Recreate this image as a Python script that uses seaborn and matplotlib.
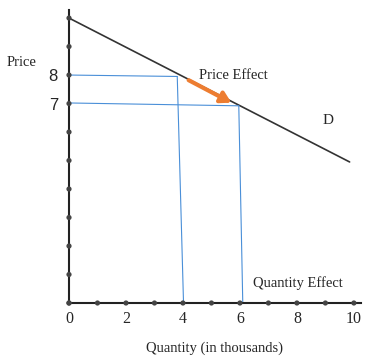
import matplotlib
matplotlib.use("Agg")
from matplotlib import pyplot as plt
import seaborn as sns
import numpy as np

# demand curve
demand_q = [0, 9.85]
demand_p = [10, 4.95]

# guide lines (old price 8 -> qty 4, new price 7 -> qty 6)
old_h_q = [0, 3.8]
old_h_p = [8, 7.95]
old_v_q = [3.8, 4.02]
old_v_p = [7.95, 0]
new_h_q = [0, 5.96]
new_h_p = [7.02, 6.92]
new_v_q = [5.96, 6.1]
new_v_p = [6.92, 0]

# price effect arrow
arrow_start = (4.2, 7.82)
arrow_end = (5.7, 7.03)

axis_ticks = list(range(0, 11))
x_labels = ["0", "2", "4", "6", "8", "10"]
y_labels = ["8", "7"]

sns.set_style("white")
plt.rcParams["font.family"] = ["Liberation Serif", "DejaVu Serif"]

fig = plt.figure(figsize=(3.8, 3.58), dpi=100)
ax = fig.add_axes([69/380, 55/358, 292/380, 293.5/358])

sns.lineplot(x=demand_q, y=demand_p, ax=ax, color="#333333", linewidth=1.2)
blue = "#4a8fd8"
for q, p in [(old_h_q, old_h_p), (old_v_q, old_v_p), (new_h_q, new_h_p), (new_v_q, new_v_p)]:
    sns.lineplot(x=q, y=p, ax=ax, color=blue, linewidth=0.8, sort=False)

ax.annotate("", xy=arrow_end, xytext=arrow_start,
            arrowprops=dict(arrowstyle="-|>,head_length=0.6,head_width=0.35",
                            color="#ed7d31", lw=3, shrinkA=0, shrinkB=0))

# dots along the axes
sns.scatterplot(x=axis_ticks, y=[0]*len(axis_ticks), ax=ax, color="#444444", s=14,
                edgecolor="none", clip_on=False, zorder=5)
sns.scatterplot(x=[0]*len(axis_ticks), y=axis_ticks, ax=ax, color="#444444", s=14,
                edgecolor="none", clip_on=False, zorder=5)

ax.set_xlim(0, 10.25)
ax.set_ylim(0, 10.3)
for s in ["top", "right"]:
    ax.spines[s].set_visible(False)
for s in ["left", "bottom"]:
    ax.spines[s].set_color("#222222")
    ax.spines[s].set_linewidth(1.5)

ax.set_xticks([0, 2, 4, 6, 8, 10])
ax.set_xticklabels(x_labels, fontsize=11.5)
ax.set_yticks([8, 7])
ax.set_yticklabels(y_labels, fontsize=12)
for lab in ax.get_yticklabels():
    lab.set_fontfamily(["Liberation Sans", "DejaVu Sans"])
ax.tick_params(axis="both", length=0)
ax.tick_params(axis="x", pad=6)
ax.tick_params(axis="y", pad=8)

ax.set_xlabel("Quantity (in thousands)", fontsize=10.5, labelpad=10)
ax.set_ylabel("")
fig.text(22/380, 1 - 62/358, "Price", fontsize=10.5, ha="center", va="center")

ax.text(4.55, 8.0, "Price Effect", fontsize=10.5, ha="left", va="center")
ax.text(9.1, 6.4, "D", fontsize=11, ha="center", va="center")
ax.text(6.45, 0.7, "Quantity Effect", fontsize=10.5, ha="left", va="center")

plt.savefig("out.png", dpi=100, facecolor="w")
